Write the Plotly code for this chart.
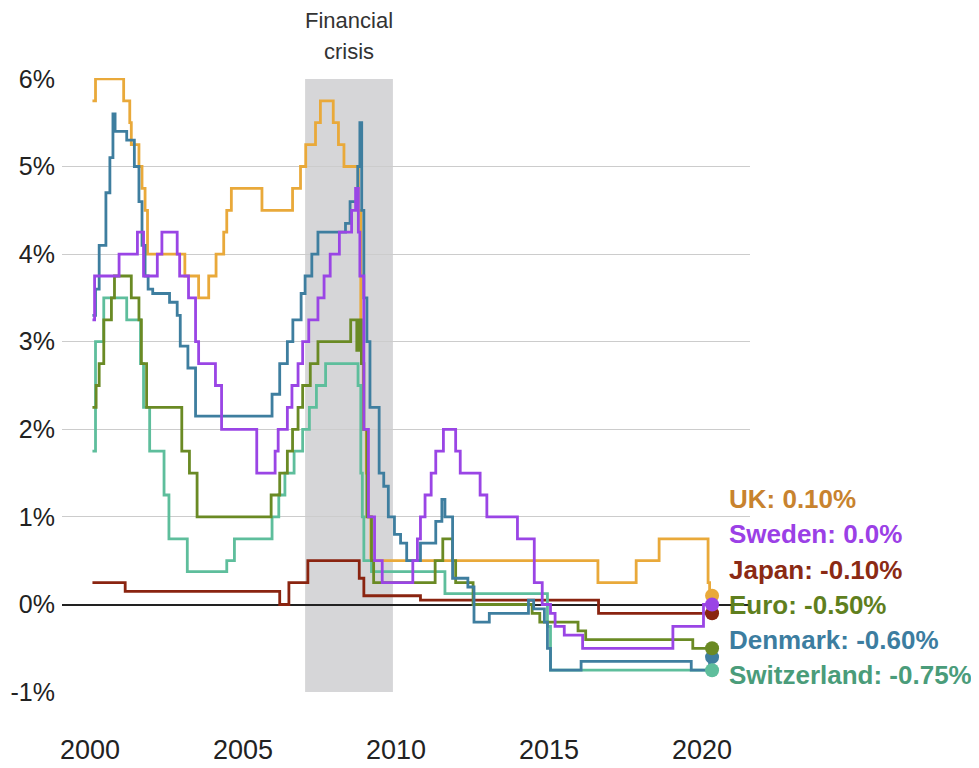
import plotly.graph_objects as go

# ---------------- data (policy rates, %, change points) ----------------
uk_t = [2000.08, 2000.18, 2001.1, 2001.3, 2001.35, 2001.6, 2001.7, 2001.8, 2001.88, 2003.1, 2003.55, 2003.88,
        2004.12, 2004.37, 2004.47, 2004.62, 2005.62, 2006.62, 2006.88, 2007.05, 2007.37, 2007.53, 2007.95,
        2008.12, 2008.3, 2008.77, 2008.85, 2008.93, 2009.03, 2009.1, 2009.18, 2016.6, 2017.85, 2018.6,
        2020.2, 2020.25, 2020.33]
uk_v = [5.75, 6.0, 5.75, 5.5, 5.25, 5.0, 4.75, 4.5, 4.0, 3.75, 3.5, 3.75,
        4.0, 4.25, 4.5, 4.75, 4.5, 4.75, 5.0, 5.25, 5.5, 5.75, 5.5,
        5.25, 5.0, 4.5, 3.0, 2.0, 1.5, 1.0, 0.5, 0.25, 0.5, 0.75,
        0.25, 0.1, 0.1]

se_t = [2000.08, 2000.15, 2000.95, 2001.55, 2001.75, 2002.2, 2002.35, 2002.85, 2002.93, 2003.22, 2003.45,
        2003.55, 2004.1, 2004.3, 2005.45, 2006.05, 2006.15, 2006.45, 2006.6, 2006.8, 2006.95, 2007.15,
        2007.45, 2007.65, 2007.85, 2008.15, 2008.55, 2008.68, 2008.77, 2008.82, 2008.95, 2009.1, 2009.3,
        2009.55, 2010.55, 2010.7, 2010.8, 2010.95, 2011.15, 2011.3, 2011.55, 2011.95, 2012.1, 2012.75,
        2012.97, 2013.97, 2014.52, 2014.78, 2015.05, 2015.2, 2015.5, 2016.1, 2019.05, 2020.05, 2020.33]
se_v = [3.25, 3.75, 4.0, 4.25, 3.75, 4.0, 4.25, 4.0, 3.75, 3.5, 3.0,
        2.75, 2.5, 2.0, 1.5, 1.75, 2.0, 2.25, 2.5, 2.75, 3.0, 3.25,
        3.5, 3.75, 4.0, 4.25, 4.5, 4.75, 4.25, 3.75, 2.0, 1.0, 0.5,
        0.25, 0.5, 0.75, 1.0, 1.25, 1.5, 1.75, 2.0, 1.75, 1.5, 1.25,
        1.0, 0.75, 0.25, 0.0, -0.1, -0.25, -0.35, -0.5, -0.25, 0.0, 0.0]

jp_t = [2000.08, 2001.15, 2006.2, 2006.5, 2007.12, 2008.8, 2008.95, 2010.8, 2016.62, 2020.33]
jp_v = [0.25, 0.15, 0.0, 0.25, 0.5, 0.3, 0.1, 0.05, -0.1, -0.1]

eu_t = [2000.08, 2000.2, 2000.3, 2000.45, 2000.7, 2000.8, 2001.35, 2001.6, 2001.68, 2001.85, 2003.0,
        2003.25, 2003.5, 2005.92, 2006.2, 2006.45, 2006.62, 2006.8, 2006.95, 2007.2, 2007.45, 2008.52,
        2008.72, 2008.78, 2008.87, 2008.95, 2009.05, 2009.2, 2009.27, 2011.28, 2011.53, 2011.85, 2011.95,
        2012.52, 2014.45, 2014.7, 2015.95, 2016.2, 2019.7, 2020.33]
eu_v = [2.25, 2.5, 2.75, 3.25, 3.5, 3.75, 3.5, 3.25, 2.75, 2.25, 1.75,
        1.5, 1.0, 1.25, 1.5, 1.75, 2.0, 2.25, 2.5, 2.75, 3.0, 3.25,
        2.9, 3.25, 2.75, 2.0, 1.0, 0.5, 0.25, 0.5, 0.75, 0.5, 0.25,
        0.0, -0.1, -0.2, -0.3, -0.4, -0.5, -0.5]

dk_t = [2000.08, 2000.18, 2000.3, 2000.52, 2000.65, 2000.75, 2000.82, 2001.2, 2001.45, 2001.6, 2001.7,
        2001.8, 2001.9, 2002.05, 2002.6, 2002.85, 2002.95, 2003.2, 2003.45, 2005.95, 2006.2, 2006.45,
        2006.63, 2006.9, 2007.03, 2007.25, 2007.45, 2008.35, 2008.5, 2008.75, 2008.82, 2008.88, 2008.95,
        2009.05, 2009.15, 2009.45, 2009.6, 2009.75, 2009.95, 2010.15, 2010.35, 2010.8, 2011.3, 2011.5,
        2011.6, 2011.85, 2012.35, 2012.55, 2013.05, 2014.33, 2014.5, 2014.85, 2014.95, 2015.05, 2016.05,
        2019.65, 2020.25, 2020.33]
dk_v = [3.3, 3.6, 4.1, 4.7, 5.1, 5.6, 5.4, 5.3, 5.0, 4.6, 4.1,
        3.75, 3.6, 3.55, 3.45, 3.3, 2.95, 2.7, 2.15, 2.4, 2.75, 3.0,
        3.25, 3.55, 3.75, 4.0, 4.25, 4.35, 4.6, 5.0, 5.5, 4.5, 3.5,
        3.0, 2.25, 1.5, 1.35, 1.0, 0.8, 0.7, 0.5, 0.7, 0.95, 1.2,
        1.0, 0.3, 0.2, -0.2, -0.1, 0.05, -0.05, -0.2, -0.5, -0.75, -0.65,
        -0.75, -0.6, -0.6]

ch_t = [2000.08, 2000.18, 2000.45, 2001.2, 2001.65, 2001.75, 2001.95, 2002.42, 2002.58, 2003.18, 2004.47,
        2004.72, 2005.95, 2006.17, 2006.37, 2006.67, 2006.95, 2007.17, 2007.4, 2007.7, 2008.76, 2008.85,
        2008.9, 2008.95, 2009.2, 2011.6, 2014.95, 2015.05, 2020.33]
ch_v = [1.75, 3.0, 3.5, 3.25, 2.75, 2.25, 1.75, 1.25, 0.75, 0.375, 0.5,
        0.75, 1.0, 1.25, 1.5, 1.75, 2.0, 2.25, 2.5, 2.75, 2.5, 1.5,
        1.0, 0.5, 0.375, 0.125, -0.25, -0.75, -0.75]

label_texts = ["UK: 0.10%", "Sweden: 0.0%", "Japan: -0.10%", "Euro: -0.50%",
               "Denmark: -0.60%", "Switzerland: -0.75%"]
label_y = [1.2, 0.8, 0.39, -0.01, -0.41, -0.81]

x_ticks = [2000, 2005, 2010, 2015, 2020]
y_ticks = [-1, 0, 1, 2, 3, 4, 5, 6]
y_ticktext = ["-1%", "0%", "1%", "2%", "3%", "4%", "5%", "6%"]
crisis = [2007.03, 2009.9]

# ---------------- styles ----------------
line_col = {"UK": "#E9A93A", "Sweden": "#9A45E5", "Japan": "#8A2410",
            "Euro": "#6A8A24", "Denmark": "#3E7E9F", "Switzerland": "#5EBE9C"}
text_col = {"UK": "#C8832E", "Sweden": "#9B40E6", "Japan": "#8B2A14",
            "Euro": "#5F7F1E", "Denmark": "#3C7DA0", "Switzerland": "#4A9C7A"}

series = {"UK": (uk_t, uk_v), "Sweden": (se_t, se_v), "Japan": (jp_t, jp_v),
          "Euro": (eu_t, eu_v), "Denmark": (dk_t, dk_v), "Switzerland": (ch_t, ch_v)}

FONT = "Liberation Sans, Arial, sans-serif"

fig = go.Figure()
for name in ["Japan", "UK", "Switzerland", "Euro", "Denmark", "Sweden"]:
    t, v = series[name]
    fig.add_trace(go.Scatter(x=t, y=v, mode="lines", name=name,
                             line=dict(color=line_col[name], width=2.8, shape="hv"),
                             hoverinfo="skip", showlegend=False))

marker_order = ["UK", "Japan", "Sweden", "Denmark", "Euro", "Switzerland"]
fig.add_trace(go.Scatter(
    x=[series[n][0][-1] for n in marker_order],
    y=[series[n][1][-1] for n in marker_order],
    mode="markers",
    marker=dict(size=14, color=[line_col[n] for n in marker_order]),
    hoverinfo="skip", showlegend=False))

names = ["UK", "Sweden", "Japan", "Euro", "Denmark", "Switzerland"]
for n, txt, yy in zip(names, label_texts, label_y):
    fig.add_annotation(x=2020.82, y=yy, xref="x", yref="y", text="<b>" + txt + "</b>",
                       showarrow=False, xanchor="left", yanchor="middle",
                       font=dict(family=FONT, size=26, color=text_col[n]))

fig.add_shape(type="rect", xref="x", yref="y", x0=crisis[0], x1=crisis[1], y0=-1, y1=6,
              fillcolor="#D6D6D8", line=dict(width=0), layer="below")

mid = (crisis[0] + crisis[1]) / 2
fig.add_annotation(x=mid, y=1.0943, xref="x", yref="paper", text="Financial", showarrow=False,
                   xanchor="center", yanchor="middle", font=dict(family=FONT, size=22, color="#333333"))
fig.add_annotation(x=mid, y=1.0423, xref="x", yref="paper", text="crisis", showarrow=False,
                   xanchor="center", yanchor="middle", font=dict(family=FONT, size=22, color="#333333"))

# the page body adds an 8px margin, so the figure is 8px smaller than the window
fig.update_layout(
    template="none",
    width=971, height=760,
    margin=dict(l=54, r=229, t=70, b=75, autoexpand=False),
    paper_bgcolor="white", plot_bgcolor="white",
    font=dict(family=FONT, size=25, color="#222222"),
    xaxis=dict(range=[1999.085, 2021.57], tickvals=x_ticks, showgrid=False, zeroline=False,
               showline=False, ticks="", ticklabelstandoff=38, automargin=False,
               tickfont=dict(family=FONT, size=27, color="#222222")),
    yaxis=dict(range=[-1.01, 6.01], tickvals=y_ticks, ticktext=y_ticktext,
               showgrid=True, gridcolor="#CCCCCC", gridwidth=1,
               zeroline=True, zerolinecolor="#222222", zerolinewidth=2,
               showline=False, ticks="", ticklabelstandoff=6, automargin=False,
               tickfont=dict(family=FONT, size=25, color="#222222")),
)

fig.write_html("out.html")
